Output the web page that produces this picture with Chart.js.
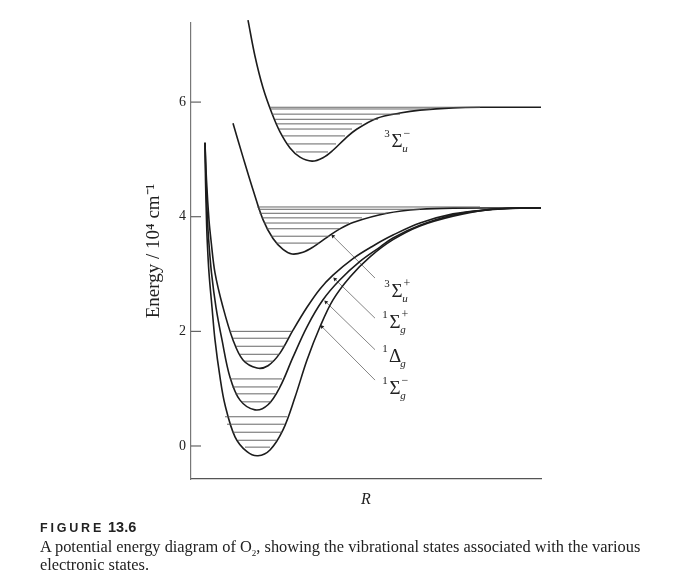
<!DOCTYPE html>
<html>
<head>
<meta charset="utf-8">
<script src="https://cdn.jsdelivr.net/npm/chart.js@4/dist/chart.umd.min.js"></script>
<style>
html,body{margin:0;padding:0;background:#fff;width:681px;height:587px;overflow:hidden}
#wrap{position:relative;width:681px;height:587px}
#c{position:absolute;left:0;top:0}
#fig{position:absolute;left:40px;top:519px;font:bold 14.5px "Liberation Sans",sans-serif;color:#222}
#fig span{letter-spacing:2.8px;font-size:12.5px}
#cap{position:absolute;left:40px;top:538px;width:640px;font:16.38px/18px "Liberation Serif",serif;color:#222}
#cap sub{font-size:9px;line-height:0}
</style>
</head>
<body>
<div id="wrap">
<canvas id="c" width="681" height="587"></canvas>
<div id="fig"><span>FIGURE</span> 13.6</div>
<div id="cap">A potential energy diagram of O<sub>2</sub>, showing the vibrational states associated with the various<br>electronic states.</div>
</div>
<script>
const yTicks = [0, 2, 4, 6];

const rSigmaUMinus = [57,64,72,81,89,99,109,121,132,142,154,166,186,209,229,262,296,350];
const eSigmaUMinus = [7.43,6.80,6.25,5.80,5.48,5.20,5.04,4.97,5.03,5.16,5.36,5.53,5.72,5.81,5.86,5.90,5.91,5.91];

const rSigmaUPlus = [42,52,62,72,82,92,101,112,122,136,148,162,196,229,262,350];
const eSigmaUPlus = [5.63,5.04,4.47,3.95,3.62,3.43,3.35,3.38,3.47,3.64,3.78,3.90,4.06,4.13,4.15,4.15];

const rSigmaGPlus = [14,15.5,18,20,24,32,42,52,66,77,89,102,116,129,142,162,182,202,229,262,296,329,350];
const eSigmaGPlus = [5.29,4.64,3.94,3.59,3.02,2.42,1.85,1.50,1.36,1.40,1.62,2.02,2.42,2.74,2.98,3.27,3.49,3.68,3.89,4.05,4.12,4.15,4.15];

const rDeltaG = [14,15,16.5,17.7,20.5,25,31,39,49,64,77,89,102,116,132,149,169,189,202,229,262,296,329,350];
const eDeltaG = [5.29,4.64,3.94,3.59,3.02,2.42,1.85,1.20,0.80,0.63,0.72,1.03,1.55,2.08,2.55,2.90,3.22,3.47,3.63,3.85,4.03,4.12,4.15,4.15];

const rSigmaGMinus = [14,14.5,15.5,16.2,18,21,24,29,34,44,56,67,79,92,104,116,129,142,159,179,202,229,262,296,329,350];
const eSigmaGMinus = [5.29,4.64,3.94,3.59,3.02,2.42,1.85,1.20,0.72,0.16,-0.10,-0.17,-0.07,0.28,0.85,1.50,2.08,2.55,2.95,3.30,3.60,3.84,4.01,4.12,4.15,4.15];

// vibrational levels: energy, left R, right R
const levelsSigmaUMinus = [[5.91,79,289],[5.88,80,239],[5.79,81,209],[5.70,84,187],[5.62,86,171],[5.53,88,161],[5.41,92,154],[5.27,97,145],[5.13,105,137]];
const levelsSigmaUPlus = [[4.17,66,289],[4.13,67,229],[4.06,68.5,196],[3.98,71,171],[3.89,73,158],[3.79,76,149],[3.66,80,138],[3.54,85,128]];
const levelsSigmaGPlus = [[2.00,39,101],[1.88,42,97],[1.74,45,94],[1.60,49,89],[1.48,54,82]];
const levelsDeltaG = [[1.17,39,91],[1.03,41,87],[0.91,44,84],[0.77,51,80]];
const levelsSigmaGMinus = [[0.51,34,96],[0.38,36,94],[0.24,41,91],[0.10,47,86],[-0.02,54,79]];

// label leader arrows: tail R, tail E, tip R, tip E
const arrowLines = [[184,2.93,142,3.66],[184,2.23,144,2.91],[184,1.68,135,2.51],[184,1.15,131,2.08]];

const stateLabels = ["3Σu−","3Σu+","1Σg+","1Δg","1Σg−"];
const stateLabelR = [206,206,204,204,204];
const stateLabelE = [5.30,2.69,2.15,1.55,0.99];

const zip = (r, e) => r.map((x, i) => ({x, y: e[i]}));
const curve = (r, e) => ({data: zip(r, e), borderColor:'#1c1c1c', borderWidth:1.6, pointRadius:0, tension:0.35, clip:false});
const segs = (list) => list.map(([e, a, b]) => ({data:[{x:a,y:e},{x:b,y:e}], borderColor:'#555', borderWidth:0.9, pointRadius:0}));
const datasets = [
  ...segs(levelsSigmaUMinus), ...segs(levelsSigmaUPlus), ...segs(levelsSigmaGPlus), ...segs(levelsDeltaG), ...segs(levelsSigmaGMinus),
  curve(rSigmaUMinus, eSigmaUMinus), curve(rSigmaUPlus, eSigmaUPlus), curve(rSigmaGPlus, eSigmaGPlus), curve(rDeltaG, eDeltaG), curve(rSigmaGMinus, eSigmaGMinus),
  ...yTicks.map(v => ({data:[{x:0,y:v},{x:10,y:v}], borderColor:'#555', borderWidth:1.1, pointRadius:0})),
  ...arrowLines.map(([a,b,c,d]) => ({data:[{x:a,y:b},{x:c,y:d}], borderColor:'#777', borderWidth:0.9,
    pointRadius:[0,2.4], pointStyle:'triangle', pointRotation:-45, pointBackgroundColor:'#222', pointBorderColor:'#222', pointBorderWidth:0}))
];

const labelPlugin = {
  id:'stateLabels',
  afterDatasetsDraw(chart){
    const {ctx, scales:{x, y}} = chart;
    ctx.save();
    ctx.fillStyle = '#222';
    ctx.textAlign = 'center';
    ctx.textBaseline = 'middle';
    stateLabels.forEach((s, i) => {
      const px = x.getPixelForValue(stateLabelR[i]), py = y.getPixelForValue(stateLabelE[i]);
      const [lead, sym, sub, sup] = s;
      ctx.font = '11px "Liberation Serif"';
      ctx.fillText(lead, px - 10, py - 8);
      ctx.font = '19px "Liberation Serif"';
      ctx.fillText(sym, px, py);
      ctx.font = 'italic 11px "Liberation Serif"';
      ctx.fillText(sub, px + 8, py + 7);
      if (sup) { ctx.font = '12px "Liberation Serif"'; ctx.fillText(sup, px + 10, py - 8); }
    });
    ctx.restore();
  }
};

new Chart(document.getElementById('c'), {
  type:'line',
  data:{datasets},
  plugins:[labelPlugin],
  options:{
    responsive:false,
    animation:false,
    events:[],
    layout:{padding:{left:143, right:140, top:23, bottom:78}},
    plugins:{legend:{display:false}, tooltip:{enabled:false}},
    scales:{
      x:{
        type:'linear', min:0, max:350,
        grid:{display:false, drawTicks:false},
        border:{display:true, color:'#555', width:1.2},
        ticks:{display:false},
        title:{display:true, text:'R', color:'#222', padding:0, font:{family:'"Liberation Serif"', style:'italic', size:16}},
        afterFit(s){ s.height = 30; }
      },
      y:{
        type:'linear', min:-0.576, max:7.38,
        grid:{display:false, drawTicks:false},
        border:{display:true, color:'#777', width:1.2},
        afterBuildTicks(s){ s.ticks = yTicks.map(value => ({value})); },
        ticks:{color:'#222', padding:5, font:{family:'"Liberation Serif"', size:14}},
        title:{display:true, text:'Energy / 10⁴ cm⁻¹', color:'#222', padding:0, font:{family:'"Liberation Serif"', size:19}},
        afterFit(s){ s.width = 48; }
      }
    }
  }
});
</script>
</body>
</html>
